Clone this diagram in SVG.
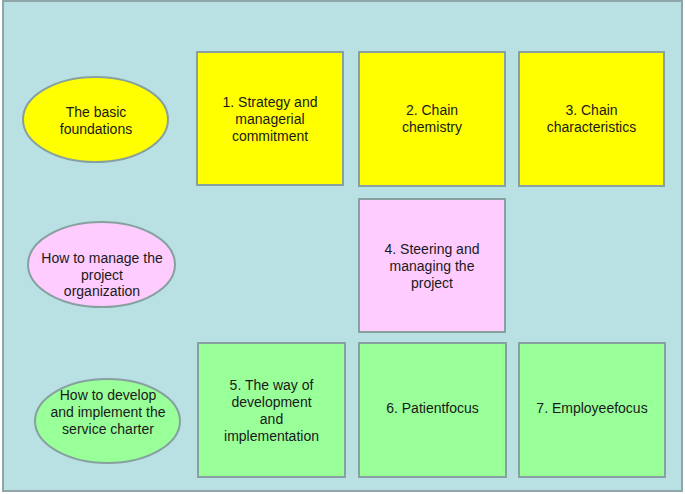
<svg xmlns="http://www.w3.org/2000/svg" width="685" height="494" viewBox="0 0 685 494">
<style>
.bg{fill:#b9e0e3;stroke:#8fa6a8;stroke-width:2}
.n{stroke:#87a0a0;stroke-width:2}
.y{fill:#ffff00}
.p{fill:#ffccff}
.g{fill:#99ff99}
text{font-family:"Liberation Sans",Arial,sans-serif;font-size:14px;fill:#1a1a1a;text-anchor:middle}
</style>
<rect x="0" y="0" width="685" height="494" fill="#ffffff"/>
<rect class="bg" x="3" y="1" width="679" height="490"/>
<g id="connectors"/>
<g id="e1"><ellipse class="n y" cx="95.5" cy="119.5" rx="72.5" ry="42.5"/><text x="96" y="117">The basic</text><text x="96" y="134">foundations</text></g>
<g id="e2"><ellipse class="n p" cx="101.5" cy="264.5" rx="73.5" ry="42.5"/><text x="102" y="263">How to manage the</text><text x="102" y="280">project</text><text x="102" y="296">organization</text></g>
<g id="e3"><ellipse class="n g" cx="107.5" cy="421" rx="72.5" ry="42"/><text x="108" y="400">How to develop</text><text x="108" y="417">and implement the</text><text x="108" y="434">service charter</text></g>
<g id="b1"><rect class="n y" x="197" y="52" width="146" height="133"/><text x="270" y="107">1. Strategy and</text><text x="270" y="124">managerial</text><text x="270" y="141">commitment</text></g>
<g id="b2"><rect class="n y" x="359" y="52" width="146" height="134"/><text x="432" y="115">2. Chain</text><text x="432" y="132">chemistry</text></g>
<g id="b3"><rect class="n y" x="519" y="52" width="145" height="134"/><text x="591.5" y="115">3. Chain</text><text x="591.5" y="132">characteristics</text></g>
<g id="b4"><rect class="n p" x="359" y="199" width="146" height="133"/><text x="432" y="254">4. Steering and</text><text x="432" y="271">managing the</text><text x="432" y="288">project</text></g>
<g id="b5"><rect class="n g" x="198" y="343" width="147" height="134"/><text x="271.5" y="390">5. The way of</text><text x="271.5" y="407">development</text><text x="271.5" y="424">and</text><text x="271.5" y="441">implementation</text></g>
<g id="b6"><rect class="n g" x="359" y="343" width="147" height="134"/><text x="432.5" y="413">6. Patientfocus</text></g>
<g id="b7"><rect class="n g" x="519" y="343" width="146" height="134"/><text x="592" y="413">7. Employeefocus</text></g>
</svg>
